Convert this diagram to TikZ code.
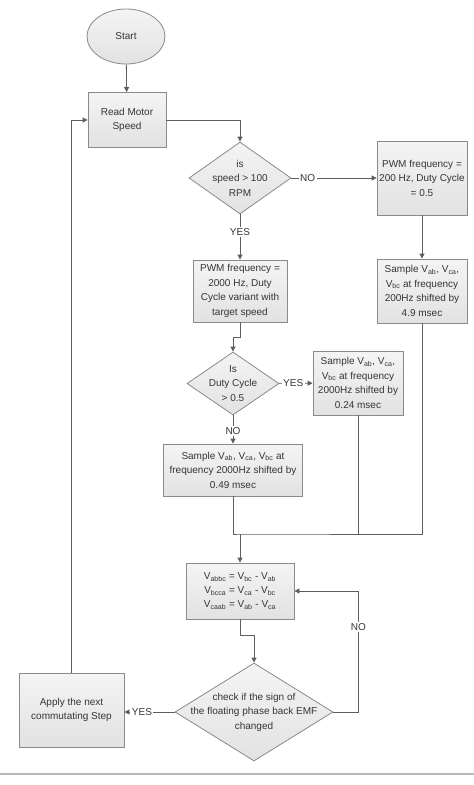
\documentclass[tikz,border=0pt]{standalone}
\usepackage{fontspec}
\setmainfont{Liberation Sans}
\usetikzlibrary{shapes.geometric, arrows.meta, positioning, calc}

\definecolor{linegray}{HTML}{5E5E5E}
\definecolor{bordergray}{HTML}{8A8A8A}
\definecolor{boxtop}{HTML}{F4F4F4}
\definecolor{boxgray}{HTML}{E2E2E2}
\definecolor{textgray}{HTML}{353535}

\begin{document}
\begin{tikzpicture}[x=1pt, y=-1pt,
    every node/.style={font=\fontsize{10}{14.5}\selectfont, text=textgray},
    box/.style={draw=bordergray, line width=0.8pt, top color=boxtop, bottom color=boxgray, align=center, inner sep=1pt},
    startbox/.style={draw=bordergray, line width=0.8pt, ellipse, top color=boxtop, bottom color=boxgray, minimum width=78pt, minimum height=55pt},
    decision/.style={draw=bordergray, line width=0.8pt, diamond, top color=boxtop, bottom color=boxgray, inner sep=0pt},
    dtext/.style={align=center, inner sep=0pt},
    line/.style={draw=linegray, line width=0.8pt},
    arr/.style={line, -{Triangle[length=5pt,width=5pt]}},
    lbl/.style={fill=white, inner sep=1.5pt}]
    \useasboundingbox (0,0) rectangle (474,785);

    \node[startbox] (start) at (126,36.5) {Start};
    \node[box, minimum width=78pt, minimum height=55pt] (read) at (127,120) {Read Motor\\Speed};

    \node[decision, minimum width=102pt, minimum height=72pt] (d1) at (240,178) {};
    \node[dtext] (d1t) at (d1) {is\\speed > 100\\RPM};
    \node[box, minimum width=90pt, minimum height=74pt] (p200) at (422,178) {PWM frequency =\\200 Hz, Duty Cycle\\= 0.5};
    \node[box, minimum width=94pt, minimum height=62pt] (p2000) at (240,291) {PWM frequency =\\2000 Hz, Duty\\Cycle variant with\\target speed};
    \node[box, minimum width=90pt, minimum height=64pt] (s200) at (422,291) {Sample V\textsubscript{ab}, V\textsubscript{ca},\\V\textsubscript{bc} at frequency\\200Hz shifted by\\4.9 msec};

    \node[decision, minimum width=92pt, minimum height=63pt] (d2) at (233,383.5) {};
    \node[dtext] (d2t) at (d2) {Is\\Duty Cycle\\> 0.5};
    \node[box, minimum width=90pt, minimum height=64pt] (s024) at (358,383) {Sample V\textsubscript{ab}, V\textsubscript{ca},\\V\textsubscript{bc} at frequency\\2000Hz shifted by\\0.24 msec};
    \node[box, minimum width=139pt, minimum height=52pt] (s049) at (233,470) {Sample V\textsubscript{ab}, V\textsubscript{ca}, V\textsubscript{bc} at\\frequency 2000Hz shifted by\\0.49 msec};

    \coordinate (m) at (240,534);
    \node[box, minimum width=108pt, minimum height=56pt, font=\fontsize{10}{14}\selectfont] (diff) at (240,591) {V\textsubscript{abbc} = V\textsubscript{bc} - V\textsubscript{ab}\\V\textsubscript{bcca} = V\textsubscript{ca} - V\textsubscript{bc}\\V\textsubscript{caab} = V\textsubscript{ab} - V\textsubscript{ca}};

    \node[decision, minimum width=158pt, minimum height=98pt] (d3) at (254,712) {};
    \node[dtext] (d3t) at (d3) {check if the sign of\\the floating phase back EMF\\changed};
    \node[box, minimum width=105pt, minimum height=74pt] (apply) at (71.5,710) {Apply the next\\commutating Step};

    \draw[arr] (start) -- (read);
    \draw[arr] (read.east) -| (d1.north);
    \draw[arr] (d1) -- node[lbl, pos=.19] {NO} (p200);
    \draw[arr] (p200) -- (s200);
    \draw[arr] (d1) -- node[lbl, pos=.39] {YES} (p2000);
    \draw[arr] (p2000.south) -- ++(0,15) -| (d2.north);
    \draw[arr] (d2) -- node[lbl, pos=.42] {YES} (s024);
    \draw[arr] (d2) -- node[lbl, pos=.55] {NO} (s049);

    % joining the three sample branches
    \draw[line] (s049.south) |- (m) -| (s200.south);
    \draw[line] (s024.south) -- (s024.south |- m);
    \draw[arr] (m) -- (diff);

    \draw[arr] (diff.south) -- ++(0,16) -| (d3.north);
    \draw[arr] (d3.east) -- ++(25,0) |- node[lbl, pos=.35] {NO} (diff.east);
    \draw[arr] (d3.west) -- node[lbl, pos=.65] {YES} (d3.west -| apply.east);
    \draw[arr] (apply.north) |- (read.west);

    \draw[draw=gray!55, line width=2.5pt] (0,774) -- (474,774);
\end{tikzpicture}
\end{document}
